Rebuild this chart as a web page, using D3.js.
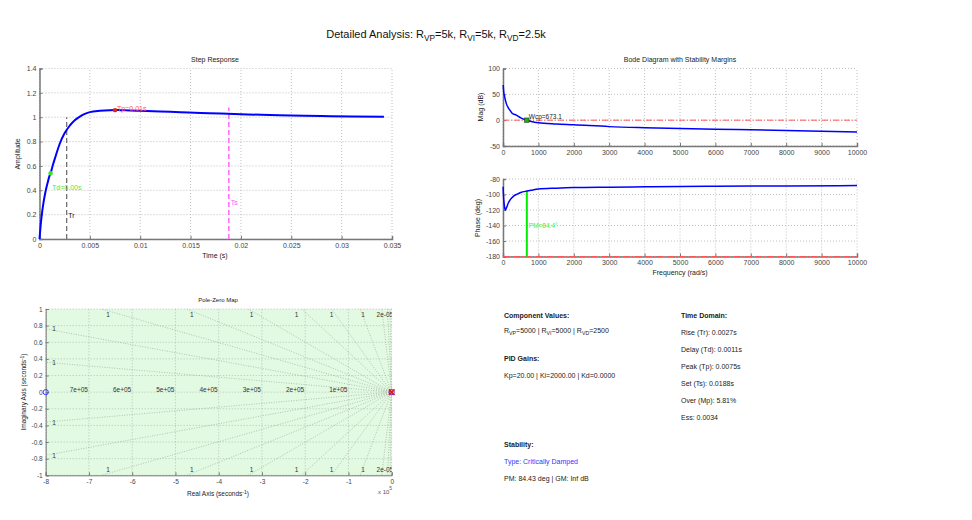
<!DOCTYPE html>
<html><head><meta charset="utf-8">
<script src="https://cdn.jsdelivr.net/npm/d3@7"></script>
<style>
body{margin:0;background:#fff;}
svg{font-family:"Liberation Sans",Arial,sans-serif;}
.tick text{fill:#444;}
</style></head><body>
<svg id="c" width="972" height="520"></svg>
<script>
// ---------- DATA ----------
const stepT = [0,0.0001,0.0002,0.0004,0.0006,0.0008,0.001,0.0011,0.0013,0.0016,0.002,0.0025,0.003,0.0035,0.004,0.0045,0.005,0.006,0.007,0.0075,0.008,0.009,0.01,0.012,0.014,0.016,0.018,0.02,0.022,0.025,0.028,0.031,0.0342];
const stepY = [0,0.10,0.18,0.30,0.39,0.46,0.52,0.54,0.60,0.68,0.78,0.87,0.93,0.975,1.005,1.027,1.042,1.053,1.058,1.059,1.058,1.056,1.053,1.047,1.041,1.035,1.030,1.025,1.020,1.015,1.010,1.006,1.003];
const stepXTicks = [0,0.005,0.01,0.015,0.02,0.025,0.03,0.035];
const stepYTicks = [0,0.2,0.4,0.6,0.8,1,1.2,1.4];
const Td = 0.0011, TdY = 0.54, Tr = 0.0027, Tp = 0.0075, TpY = 1.058, Ts = 0.0188;

const bodeW = [5,20,47,94,150,188,250,377,500,673.1,800,1000,1500,2000,3000,4000,5000,6000,7000,8000,9000,10000];
const magDB = [68,55,45,32,24,20,14,9.7,4.5,0,-2.5,-5,-7.5,-9,-12.5,-14.5,-16,-17.5,-18.7,-20,-21.5,-23];
const phaseW = [3,10,20,40,65,100,150,200,300,400,500,673.1,800,1000,1500,2000,3000,4000,5000,6000,8000,10000];
const phaseDeg = [-90,-98,-106,-115,-120,-117,-111,-107,-102,-99.5,-97.5,-95.6,-94.5,-93,-91.8,-91,-90.5,-90.1,-89.7,-89.4,-89,-88.5];
const bodeXTicks = [0,1000,2000,3000,4000,5000,6000,7000,8000,9000,10000];
const magTicks = [-50,0,50,100];
const phaseTicks = [-180,-160,-140,-120,-100,-80];
const wcp = 673.1, pm = 84.4;

const pzXTicks = [-8,-7,-6,-5,-4,-3,-2,-1,0];
const pzYTicks = [-1,-0.8,-0.6,-0.4,-0.2,0,0.2,0.4,0.6,0.8,1];
const zeros = [[-8,0],[0,0]];
const poles = [[0,0]];
const dampTopX = [-6.71,-4.74,-3.32,-2.08,-1.39,-0.73,-0.23,-0.1,-0.04];
const dampLeftY = [0.76,0.36];
const dampLabelX = [-6.56,-4.62,-3.24,-2.2,-1.39,-0.66];
const wnLabels = ["7e+05","6e+05","5e+05","4e+05","3e+05","2e+05","1e+05"];
const wnX = [-7,-6,-5,-4,-3,-2,-1];

// ---------- DRAW ----------
const svg = d3.select("#c");
const GRID = "#b0b0b0", AX = "#777";

function sub(sel, parts, fs){ // parts: [text, isSub]
  let pending = 0;
  parts.forEach(p=>{
    if(p[1]){ sel.append("tspan").attr("dy",fs*0.3).attr("font-size",fs*0.75).text(p[0]); pending = -fs*0.3; }
    else { sel.append("tspan").attr("dy",pending).text(p[0]); pending = 0; }
  });
}

// Title
const tt = svg.append("text").attr("x",436).attr("y",38).attr("text-anchor","middle").attr("font-size",11).attr("fill","#111");
sub(tt,[["Detailed Analysis: R",0],["VP",1],["=5k, R",0],["VI",1],["=5k, R",0],["VD",1],["=2.5k",0]],11);

function axesPanel(x, y, xTicks, yTicks, fmtX, fmtY, opts={}){
  const g = svg.append("g");
  g.selectAll(".gx").data(xTicks).enter().append("line")
    .attr("x1",d=>x(d)).attr("x2",d=>x(d)).attr("y1",y.range()[0]).attr("y2",y.range()[1])
    .attr("stroke",GRID).attr("stroke-width",0.8).attr("stroke-dasharray","1,2");
  g.selectAll(".gy").data(yTicks).enter().append("line")
    .attr("y1",d=>y(d)).attr("y2",d=>y(d)).attr("x1",x.range()[0]).attr("x2",x.range()[1])
    .attr("stroke",GRID).attr("stroke-width",0.8).attr("stroke-dasharray","1,2");
  const xa = svg.append("g").attr("transform",`translate(0,${y.range()[0]})`)
    .call(d3.axisBottom(x).tickValues(xTicks).tickFormat(fmtX).tickSize(-3).tickPadding(4));
  const ya = svg.append("g").attr("transform",`translate(${x.range()[0]},0)`)
    .call(d3.axisLeft(y).tickValues(yTicks).tickFormat(fmtY).tickSize(-3).tickPadding(3));
  [xa,ya].forEach(a=>{
    a.selectAll("text").attr("font-size",opts.fs||7).attr("fill","#444");
    a.selectAll("line").attr("stroke",AX);
    a.select(".domain").attr("stroke",AX).attr("stroke-width",opts.aw||1.5);
  });
  return g;
}

// ---- Step response ----
{
  const x = d3.scaleLinear().domain([0,0.035]).range([39.5,392]);
  const y = d3.scaleLinear().domain([0,1.4]).range([239,68.5]);
  axesPanel(x,y,stepXTicks,stepYTicks,d=>d===0?"0":String(+d.toFixed(3)),d=>String(+d.toFixed(1)));
  svg.append("text").attr("x",215).attr("y",62).attr("text-anchor","middle").attr("font-size",7).attr("fill","#222").text("Step Response");
  svg.append("text").attr("x",215).attr("y",258).attr("text-anchor","middle").attr("font-size",7).attr("fill","#222").text("Time (s)");
  svg.append("text").attr("transform","translate(20,154) rotate(-90)").attr("text-anchor","middle").attr("font-size",7).attr("fill","#222").text("Amplitude");
  svg.append("line").attr("x1",x(Tr)).attr("x2",x(Tr)).attr("y1",y(0)).attr("y2",y(1.0)).attr("stroke","#666").attr("stroke-width",1.2).attr("stroke-dasharray","5,3");
  svg.append("line").attr("x1",x(Ts)).attr("x2",x(Ts)).attr("y1",y(0)).attr("y2",y(1.08)).attr("stroke","#ff66ff").attr("stroke-width",1.5).attr("stroke-dasharray","5,3");
  const line = d3.line().x((d,i)=>x(stepT[i])).y(d=>y(d)).curve(d3.curveMonotoneX);
  svg.append("path").attr("d",line(stepY)).attr("fill","none").attr("stroke","#0000ff").attr("stroke-width",2);
  svg.append("circle").attr("cx",x(Td)).attr("cy",y(TdY)).attr("r",2.2).attr("fill","#22ee22");
  svg.append("circle").attr("cx",x(Tp)).attr("cy",y(TpY)).attr("r",2.2).attr("fill","#dd2222");
  svg.append("text").attr("x",x(Td)+1.5).attr("y",y(0.4)).attr("font-size",7).attr("fill","#44ee44").text("Td=0.00s");
  svg.append("text").attr("x",x(Tr)+1.5).attr("y",y(0.2)+3).attr("font-size",7).attr("fill","#222").text("Tr");
  svg.append("text").attr("x",x(Tp)+2).attr("y",y(TpY)+1).attr("font-size",7).attr("fill","#ff5555").text("Tp=0.01s");
  svg.append("text").attr("x",x(Ts)+2).attr("y",y(0.3)+3).attr("font-size",7).attr("fill","#ff55ff").text("Ts");
}

// ---- Bode magnitude ----
{
  const x = d3.scaleLinear().domain([0,10000]).range([503,857]);
  const y = d3.scaleLinear().domain([-50,100]).range([146,68.5]);
  axesPanel(x,y,bodeXTicks,magTicks,d=>String(d),d=>String(d));
  svg.append("text").attr("x",680).attr("y",62).attr("text-anchor","middle").attr("font-size",7).attr("fill","#222").text("Bode Diagram with Stability Margins");
  svg.append("text").attr("transform","translate(483,107) rotate(-90)").attr("text-anchor","middle").attr("font-size",7).attr("fill","#222").text("Mag (dB)");
  svg.append("line").attr("x1",x(0)).attr("x2",x(10000)).attr("y1",y(0)).attr("y2",y(0)).attr("stroke","#ff5555").attr("stroke-width",1).attr("stroke-dasharray","6,2,1,2");
  const line = d3.line().x((d,i)=>x(bodeW[i])).y(d=>y(d)).curve(d3.curveMonotoneX);
  svg.append("path").attr("d",line(magDB)).attr("fill","none").attr("stroke","#0000ff").attr("stroke-width",1.5);
  svg.append("rect").attr("x",x(wcp)-2.2).attr("y",y(0)-2.2).attr("width",4.4).attr("height",4.4).attr("fill","#22aa22").attr("stroke","#224422").attr("stroke-width",0.6);
  svg.append("text").attr("x",x(wcp)+2).attr("y",y(0)-1.5).attr("font-size",6.5).attr("fill","#222").text("Wcp=673.1");
}

// ---- Bode phase ----
{
  const x = d3.scaleLinear().domain([0,10000]).range([503,857]);
  const y = d3.scaleLinear().domain([-180,-80]).range([256.5,179]);
  axesPanel(x,y,bodeXTicks,phaseTicks,d=>String(d),d=>String(d));
  svg.append("text").attr("transform","translate(480,218) rotate(-90)").attr("text-anchor","middle").attr("font-size",7).attr("fill","#222").text("Phase (deg)");
  svg.append("text").attr("x",680).attr("y",275).attr("text-anchor","middle").attr("font-size",7).attr("fill","#222").text("Frequency (rad/s)");
  svg.append("line").attr("x1",x(0)).attr("x2",x(10000)).attr("y1",y(-180)).attr("y2",y(-180)).attr("stroke","#ff5555").attr("stroke-width",1).attr("stroke-dasharray","6,2,1,2");
  svg.append("line").attr("x1",x(wcp)).attr("x2",x(wcp)).attr("y1",y(-180)).attr("y2",y(-180+pm)).attr("stroke","#00ee00").attr("stroke-width",2);
  const line = d3.line().x((d,i)=>x(phaseW[i])).y(d=>y(d)).curve(d3.curveMonotoneX);
  svg.append("path").attr("d",line(phaseDeg)).attr("fill","none").attr("stroke","#0000ff").attr("stroke-width",1.5);
  svg.append("text").attr("x",x(wcp)+2).attr("y",y(-140)+2).attr("font-size",6.5).attr("fill","#44ee44").text("PM=84.4\u00b0");
}

// ---- Pole-Zero map ----
{
  const x = d3.scaleLinear().domain([-8,0]).range([45.7,391.7]);
  const y = d3.scaleLinear().domain([-1,1]).range([475.3,309]);
  svg.append("rect").attr("x",x(-8)).attr("y",y(1)).attr("width",x(0)-x(-8)).attr("height",y(-1)-y(1)).attr("fill","#e2fae2");
  svg.append("defs").append("clipPath").attr("id","pzc").append("rect").attr("x",x(-8)).attr("y",y(1)).attr("width",x(0)-x(-8)).attr("height",y(-1)-y(1));
  axesPanel(x,y,pzXTicks,pzYTicks,d=>String(d),d=>String(+d.toFixed(1)),{fs:6.5,aw:1});
  const g = svg.append("g").attr("clip-path","url(#pzc)");
  const dl = "#a4b4a4";
  dampTopX.forEach(h=>{ [1,-1].forEach(s=>{
    g.append("line").attr("x1",x(0)).attr("y1",y(0)).attr("x2",x(h*1.3)).attr("y2",y(s*1.3)).attr("stroke",dl).attr("stroke-width",0.8).attr("stroke-dasharray","1,1.5");
  });});
  dampLeftY.forEach(h=>{ [1,-1].forEach(s=>{
    g.append("line").attr("x1",x(0)).attr("y1",y(0)).attr("x2",x(-8)).attr("y2",y(s*h)).attr("stroke",dl).attr("stroke-width",0.8).attr("stroke-dasharray","1,1.5");
  });});
  dampLabelX.forEach(lx=>{ [0.93,-0.93].forEach(ly=>{
    g.append("text").attr("x",x(lx)).attr("y",y(ly)+2.5).attr("text-anchor","middle").attr("font-size",6.5).attr("fill","#333").text("1");
  });});
  [0.93,-0.93].forEach(ly=>g.append("text").attr("x",x(-0.35)).attr("y",y(ly)+2.5).attr("font-size",6.5).attr("fill","#333").text("2e-05"));
  dampLeftY.forEach(h=>{ [1,-1].forEach(s=>{
    g.append("text").attr("x",x(-7.85)).attr("y",y(s*h)+2.5).attr("font-size",6.5).attr("fill","#333").text("1");
  });});
  wnLabels.forEach((t,i)=>g.append("text").attr("x",x(wnX[i])-1).attr("y",y(0)).attr("text-anchor","end").attr("font-size",6.5).attr("fill","#333").text(t));
  zeros.forEach(z=>svg.append("circle").attr("cx",x(z[0])).attr("cy",y(z[1])).attr("r",2.6).attr("fill","none").attr("stroke","#2222ff").attr("stroke-width",0.9));
  poles.forEach(p=>{
    const cx=x(p[0]), cy=y(p[1]), r=2.8;
    svg.append("path").attr("d",`M${cx-r},${cy-r}L${cx+r},${cy+r}M${cx-r},${cy+r}L${cx+r},${cy-r}`).attr("stroke","#ee1111").attr("stroke-width",1.6);
  });
  svg.append("text").attr("x",218).attr("y",302).attr("text-anchor","middle").attr("font-size",6).attr("fill","#222").text("Pole-Zero Map");
  const xl = svg.append("text").attr("x",218).attr("y",496).attr("text-anchor","middle").attr("font-size",6.5).attr("fill","#222");
  xl.append("tspan").text("Real Axis (seconds");
  xl.append("tspan").attr("dy",-2.5).attr("font-size",5).text("-1");
  xl.append("tspan").attr("dy",2.5).text(")");
  const yl = svg.append("text").attr("transform","translate(26,392) rotate(-90)").attr("text-anchor","middle").attr("font-size",6.5).attr("fill","#222");
  yl.append("tspan").text("Imaginary Axis (seconds");
  yl.append("tspan").attr("dy",-2.5).attr("font-size",5).text("-1");
  yl.append("tspan").attr("dy",2.5).text(")");
  const ex = svg.append("text").attr("x",378).attr("y",494).attr("font-size",6).attr("fill","#555");
  ex.append("tspan").text("x 10");
  ex.append("tspan").attr("dy",-4).attr("font-size",5).text("5");
}

// ---- Text panel ----
{
  const fs = 7;
  const T = (xx,yy,txt,opt={})=>svg.append("text").attr("x",xx).attr("y",yy).attr("font-size",fs).attr("fill",opt.c||"#222").attr("font-weight",opt.b?"bold":"normal").text(txt);
  T(504,318,"Component Values:",{b:1});
  const rv = svg.append("text").attr("x",504).attr("y",333).attr("font-size",fs).attr("fill","#222");
  sub(rv,[["R",0],["VP",1],["=5000 | R",0],["VI",1],["=5000 | R",0],["VD",1],["=2500",0]],fs);
  T(504,361,"PID Gains:",{b:1});
  T(504,378,"Kp=20.00 | Ki=2000.00 | Kd=0.0000");
  T(504,447,"Stability:",{b:1});
  T(504,464,"Type: Critically Damped",{c:"#3333ff"});
  T(504,481,"PM: 84.43 deg | GM: Inf dB");
  T(681,318,"Time Domain:",{b:1});
  const td = ["Rise (Tr): 0.0027s","Delay (Td): 0.0011s","Peak (Tp): 0.0075s","Set (Ts): 0.0188s","Over (Mp): 5.81%","Ess: 0.0034"];
  td.forEach((t,i)=>T(681,335+i*17,t));
}
</script></body></html>
